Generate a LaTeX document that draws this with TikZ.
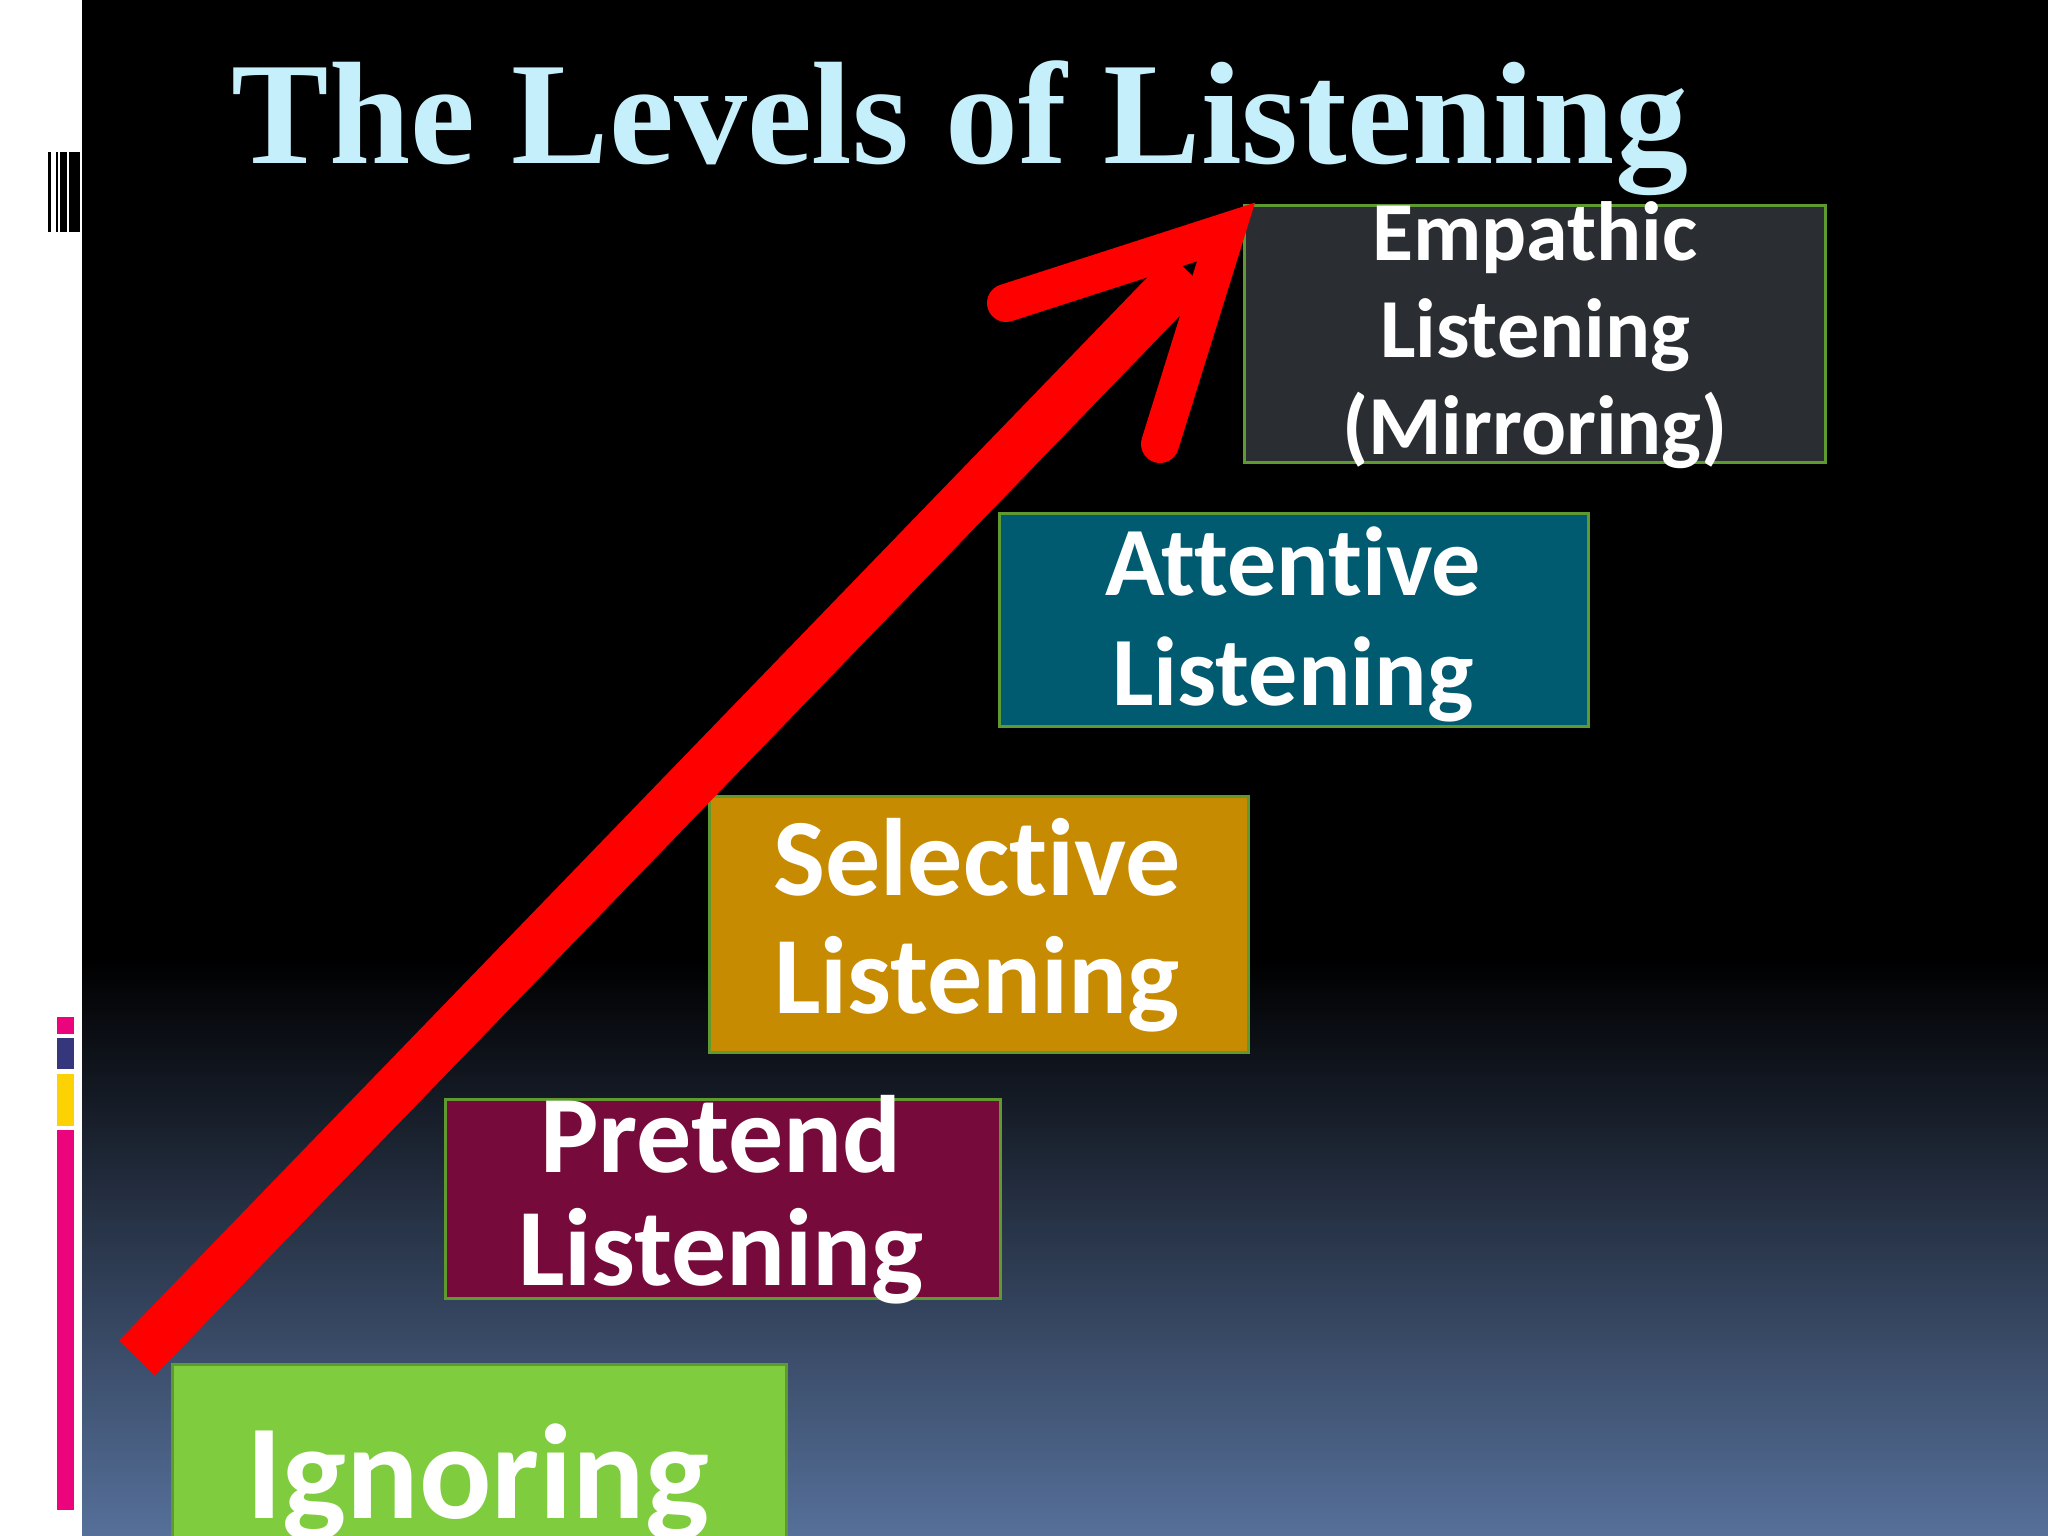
\documentclass[tikz,border=0pt]{standalone}
\usepackage{fontspec}
\usetikzlibrary{calc}
\setmainfont{Liberation Serif}
\newfontfamily\calfont[Ligatures=NoCommon]{Carlito}
\begin{document}
\begin{tikzpicture}[x=1pt,y=-1pt,
  lvl/.style={draw=boxgreen,line width=3pt},
  lbl/.style={text=white,align=center,inner sep=0pt},
  redline/.style={draw=red,line width=38pt,line cap=round}]
\definecolor{boxgreen}{HTML}{5E9A2F}
\definecolor{titlec}{HTML}{C5EFFA}
\definecolor{bgbot}{HTML}{56709A}
\definecolor{c1}{HTML}{7FCC3F}\definecolor{c2}{HTML}{760A3B}\definecolor{c3}{HTML}{C68B00}\definecolor{c4}{HTML}{005A70}\definecolor{c5}{HTML}{2A2E33}
\useasboundingbox (0,0) rectangle (2048,1536);
\clip (0,0) rectangle (2048,1536);
\fill[white] (0,0) rectangle (82,1536);
\fill[black] (82,0) rectangle (2048,960);
\shade[top color=black,bottom color=bgbot] (82,960) rectangle (2048,1536);
% barcode
\foreach \a/\b in {48/51,56/58,60/67,69/80}{\fill[black] (\a,152) rectangle (\b,232);}
% side bars
\fill[magenta!85!red] (57,1017) rectangle (74,1034);
\fill[gray!60!blue!70!black] (57,1038) rectangle (74,1069);
\fill[yellow!70!orange] (57,1074) rectangle (74,1126);
\fill[magenta!85!red] (57,1130) rectangle (74,1510);
% title
\node[text=titlec,font=\bfseries\fontsize{146}{146}\selectfont,anchor=base] (title) at (960,164) {The Levels of Listening};
% boxes
\node[lvl,fill=c1,minimum width=614,minimum height=200,anchor=north west] (ign) at (171,1363) {};
\node[lvl,fill=c2,minimum width=555,minimum height=199,anchor=north west] (pre) at (444,1098) {};
\node[lvl,fill=c3,minimum width=539,minimum height=256,anchor=north west] (sel) at (708,795) {};
\node[lvl,fill=c4,minimum width=589,minimum height=213,anchor=north west] (att) at (998,512) {};
\node[lvl,fill=c5,minimum width=581,minimum height=257,anchor=north west] (emp) at (1243,204) {};
\node[lbl,font=\calfont\bfseries\fontsize{135}{135}\selectfont,anchor=base] (t1) at (478,1518) {Ignoring};
\node[lbl,font=\calfont\bfseries\fontsize{110}{113}\selectfont] (t2) at (721,1200) {Pretend\\Listening};
\node[lbl,font=\calfont\bfseries\fontsize{110}{118}\selectfont] (t3) at (977,925) {Selective\\Listening};
\node[lbl,font=\calfont\bfseries\fontsize{98}{110}\selectfont] (t4) at (1293,624) {Attentive\\Listening};
\node[lbl,font=\calfont\bfseries\fontsize{84}{97}\selectfont] (t5) at (1535,335) {Empathic\\Listening\\(Mirroring)};
% arrow
\coordinate (s) at (137,1358);
\coordinate (t) at (1226,232);
\coordinate (b1) at (1006,303);
\coordinate (b2) at (1160,444);
\draw[draw=red,line width=50pt] (s) -- ($(s)!0.965!(t)$);
\draw[redline,line join=miter] (b1) -- (t) -- (b2);
\end{tikzpicture}
\end{document}
